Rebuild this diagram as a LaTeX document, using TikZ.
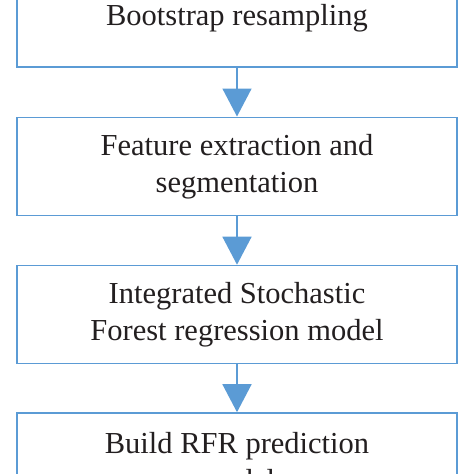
\documentclass[tikz,border=0pt]{standalone}
\usepackage{fontspec}
\setmainfont{Liberation Serif}
\usetikzlibrary{arrows.meta}
\definecolor{flowblue}{RGB}{91,155,213}
\definecolor{txt}{RGB}{35,31,32}
\begin{document}
\begin{tikzpicture}[x=1pt,y=1pt,
  stepbox/.style={draw=flowblue, line width=1.6pt, rectangle, minimum width=440pt, minimum height=98pt,
    align=center, text=txt, font=\fontsize{30.5}{37}\selectfont, inner sep=0pt},
  flowarrow/.style={draw=flowblue, line width=1.6pt, -{Triangle[length=28pt,width=29pt,fill=flowblue]}}]
\useasboundingbox (0,0) rectangle (474,-474);
\node[stepbox] (b1) at (237,-18) {Bootstrap resampling};
\node[stepbox] (b2) at (237,-166.3) {Feature extraction and\\segmentation};
\node[stepbox] (b3) at (237,-314.5) {Integrated Stochastic\\Forest regression model};
\node[stepbox] (b4) at (237,-462) {Build RFR prediction\\model};
\draw[flowarrow] (b1.south) -- (b2.north);
\draw[flowarrow] (b2.south) -- (b3.north);
\draw[flowarrow] (b3.south) -- (b4.north);
\end{tikzpicture}
\end{document}
